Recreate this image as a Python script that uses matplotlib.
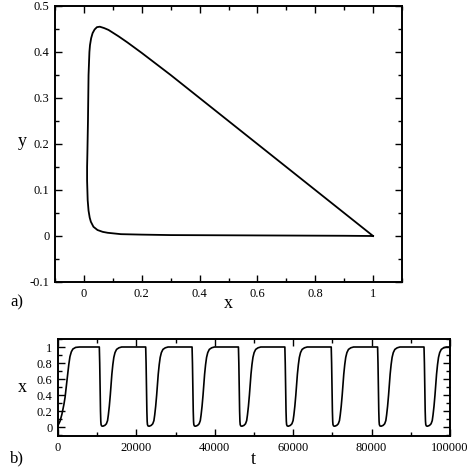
import matplotlib
matplotlib.use("Agg")
import matplotlib.pyplot as plt
from matplotlib.ticker import FixedLocator, MultipleLocator, FixedFormatter

plt.rcParams['font.family'] = ['Liberation Serif', 'DejaVu Serif']

# ---- panel a: limit cycle in (x, y) ----
loop_x = [1.0, 0.8, 0.6, 0.4, 0.3, 0.2, 0.15, 0.12, 0.1, 0.085, 0.07, 0.055, 0.045, 0.037,
          0.030, 0.025, 0.021, 0.019, 0.016, 0.014, 0.012, 0.011, 0.011, 0.013, 0.016,
          0.020, 0.024, 0.033, 0.047, 0.065, 0.082, 0.128, 0.2, 0.3, 0.5, 0.7, 0.9, 1.0]
loop_y = [0.0, 0.1, 0.2, 0.3, 0.35, 0.398, 0.421, 0.434, 0.442, 0.448, 0.452, 0.455, 0.454, 0.449,
          0.441, 0.430, 0.415, 0.40, 0.35, 0.25, 0.18, 0.15, 0.12, 0.078, 0.055,
          0.040, 0.031, 0.020, 0.013, 0.009, 0.007, 0.004, 0.003, 0.002, 0.0015, 0.001, 0.0005, 0.0]

a_xticks = [0, 0.2, 0.4, 0.6, 0.8, 1.0]
a_xticklabels = ["0", "0.2", "0.4", "0.6", "0.8", "1"]
a_yticks = [-0.1, 0, 0.1, 0.2, 0.3, 0.4, 0.5]
a_yticklabels = ["-0.1", "0", "0.1", "0.2", "0.3", "0.4", "0.5"]

# ---- panel b: time series x(t) ----
t_values = [
    0, 500, 1000, 1500, 1800, 2100, 2450, 2750, 3050, 3400, 3800, 4500, 5500,
    10540, 10640, 10740, 10840, 10920, 10990, 11140, 11440, 11940, 12340, 12640, 12840,
    13090, 13340, 13540, 13740, 13990, 14240, 14540, 14940, 15540, 16240,
    22370, 22470, 22570, 22670, 22750, 22820, 22970, 23270, 23770, 24170, 24470, 24670,
    24920, 25170, 25370, 25570, 25820, 26070, 26370, 26770, 27370, 28070,
    34200, 34300, 34400, 34500, 34580, 34650, 34800, 35100, 35600, 36000, 36300, 36500,
    36750, 37000, 37200, 37400, 37650, 37900, 38200, 38600, 39200, 39900,
    46030, 46130, 46230, 46330, 46410, 46480, 46630, 46930, 47430, 47830, 48130, 48330,
    48580, 48830, 49030, 49230, 49480, 49730, 50030, 50430, 51030, 51730,
    57870, 57970, 58070, 58170, 58250, 58320, 58470, 58770, 59270, 59670, 59970, 60170,
    60420, 60670, 60870, 61070, 61320, 61570, 61870, 62270, 62870, 63570,
    69700, 69800, 69900, 70000, 70080, 70150, 70300, 70600, 71100, 71500, 71800, 72000,
    72250, 72500, 72700, 72900, 73150, 73400, 73700, 74100, 74700, 75400,
    81530, 81630, 81730, 81830, 81910, 81980, 82130, 82430, 82930, 83330, 83630, 83830,
    84080, 84330, 84530, 84730, 84980, 85230, 85530, 85930, 86530, 87230,
    93370, 93470, 93570, 93670, 93750, 93820, 93970, 94270, 94770, 95170, 95470, 95670,
    95920, 96170, 96370, 96570, 96820, 97070, 97370, 97770, 98370, 99070, 100000,
]
x_values = [
    0.02, 0.07, 0.16, 0.28, 0.37, 0.50, 0.65, 0.78, 0.88, 0.94, 0.975, 0.995, 1.0,
    1.0, 0.80, 0.50, 0.20, 0.07, 0.03, 0.013, 0.010, 0.02, 0.04, 0.08, 0.15,
    0.26, 0.40, 0.53, 0.66, 0.78, 0.87, 0.93, 0.97, 0.99, 1.0,
    1.0, 0.80, 0.50, 0.20, 0.07, 0.03, 0.013, 0.010, 0.02, 0.04, 0.08, 0.15,
    0.26, 0.40, 0.53, 0.66, 0.78, 0.87, 0.93, 0.97, 0.99, 1.0,
    1.0, 0.80, 0.50, 0.20, 0.07, 0.03, 0.013, 0.010, 0.02, 0.04, 0.08, 0.15,
    0.26, 0.40, 0.53, 0.66, 0.78, 0.87, 0.93, 0.97, 0.99, 1.0,
    1.0, 0.80, 0.50, 0.20, 0.07, 0.03, 0.013, 0.010, 0.02, 0.04, 0.08, 0.15,
    0.26, 0.40, 0.53, 0.66, 0.78, 0.87, 0.93, 0.97, 0.99, 1.0,
    1.0, 0.80, 0.50, 0.20, 0.07, 0.03, 0.013, 0.010, 0.02, 0.04, 0.08, 0.15,
    0.26, 0.40, 0.53, 0.66, 0.78, 0.87, 0.93, 0.97, 0.99, 1.0,
    1.0, 0.80, 0.50, 0.20, 0.07, 0.03, 0.013, 0.010, 0.02, 0.04, 0.08, 0.15,
    0.26, 0.40, 0.53, 0.66, 0.78, 0.87, 0.93, 0.97, 0.99, 1.0,
    1.0, 0.80, 0.50, 0.20, 0.07, 0.03, 0.013, 0.010, 0.02, 0.04, 0.08, 0.15,
    0.26, 0.40, 0.53, 0.66, 0.78, 0.87, 0.93, 0.97, 0.99, 1.0,
    1.0, 0.80, 0.50, 0.20, 0.07, 0.03, 0.013, 0.010, 0.02, 0.04, 0.08, 0.15,
    0.26, 0.40, 0.53, 0.66, 0.78, 0.87, 0.93, 0.97, 0.99, 1.0, 1.0,
]

b_xticks = [0, 20000, 40000, 60000, 80000, 100000]
b_xticklabels = ["0", "20000", "40000", "60000", "80000", "100000"]
b_yticks = [0, 0.2, 0.4, 0.6, 0.8, 1.0]
b_yticklabels = ["0", "0.2", "0.4", "0.6", "0.8", "1"]

W = H = 474
fig = plt.figure(figsize=(4.74, 4.74), dpi=100)

def rect(l, t, r, b):
    return [l / W, (H - b) / H, (r - l) / W, (b - t) / H]

tick_fs = 9
lab_fs = 11

def style(ax):
    for s in ax.spines.values():
        s.set_linewidth(1.4)
    ax.tick_params(which='both', direction='in', top=True, right=True,
                   labelsize=tick_fs, width=1.0, pad=4)
    ax.tick_params(which='major', length=5)
    ax.tick_params(which='minor', length=3)

ax1 = fig.add_axes(rect(55, 6, 402, 282))
ax1.plot(loop_x, loop_y, color='black', lw=1.3)
ax1.set_xlim(-0.1, 1.1)
ax1.set_ylim(-0.1, 0.5)
ax1.xaxis.set_major_locator(FixedLocator(a_xticks))
ax1.xaxis.set_major_formatter(FixedFormatter(a_xticklabels))
ax1.xaxis.set_minor_locator(MultipleLocator(0.1))
ax1.yaxis.set_major_locator(FixedLocator(a_yticks))
ax1.yaxis.set_major_formatter(FixedFormatter(a_yticklabels))
ax1.yaxis.set_minor_locator(MultipleLocator(0.05))
style(ax1)

ax2 = fig.add_axes(rect(58, 339, 450, 436))
ax2.plot(t_values, x_values, color='black', lw=1.2)
ax2.set_xlim(0, 100000)
ax2.set_ylim(-0.1125, 1.1)
ax2.xaxis.set_major_locator(FixedLocator(b_xticks))
ax2.xaxis.set_major_formatter(FixedFormatter(b_xticklabels))
ax2.xaxis.set_minor_locator(MultipleLocator(10000))
ax2.yaxis.set_major_locator(FixedLocator(b_yticks))
ax2.yaxis.set_major_formatter(FixedFormatter(b_yticklabels))
ax2.yaxis.set_minor_locator(MultipleLocator(0.1))
style(ax2)

def ftext(x, y, s, size=lab_fs):
    fig.text(x / W, 1 - y / H, s, ha='center', va='center', fontsize=size)

ftext(22, 142, "y", 13)
ftext(228, 303, "x", 13)
ftext(17, 302, "a)", 12)
ftext(22, 387, "x", 13)
ftext(253, 459, "t", 13)
ftext(17, 458, "b)", 12)

fig.savefig("out.png", dpi=100)
